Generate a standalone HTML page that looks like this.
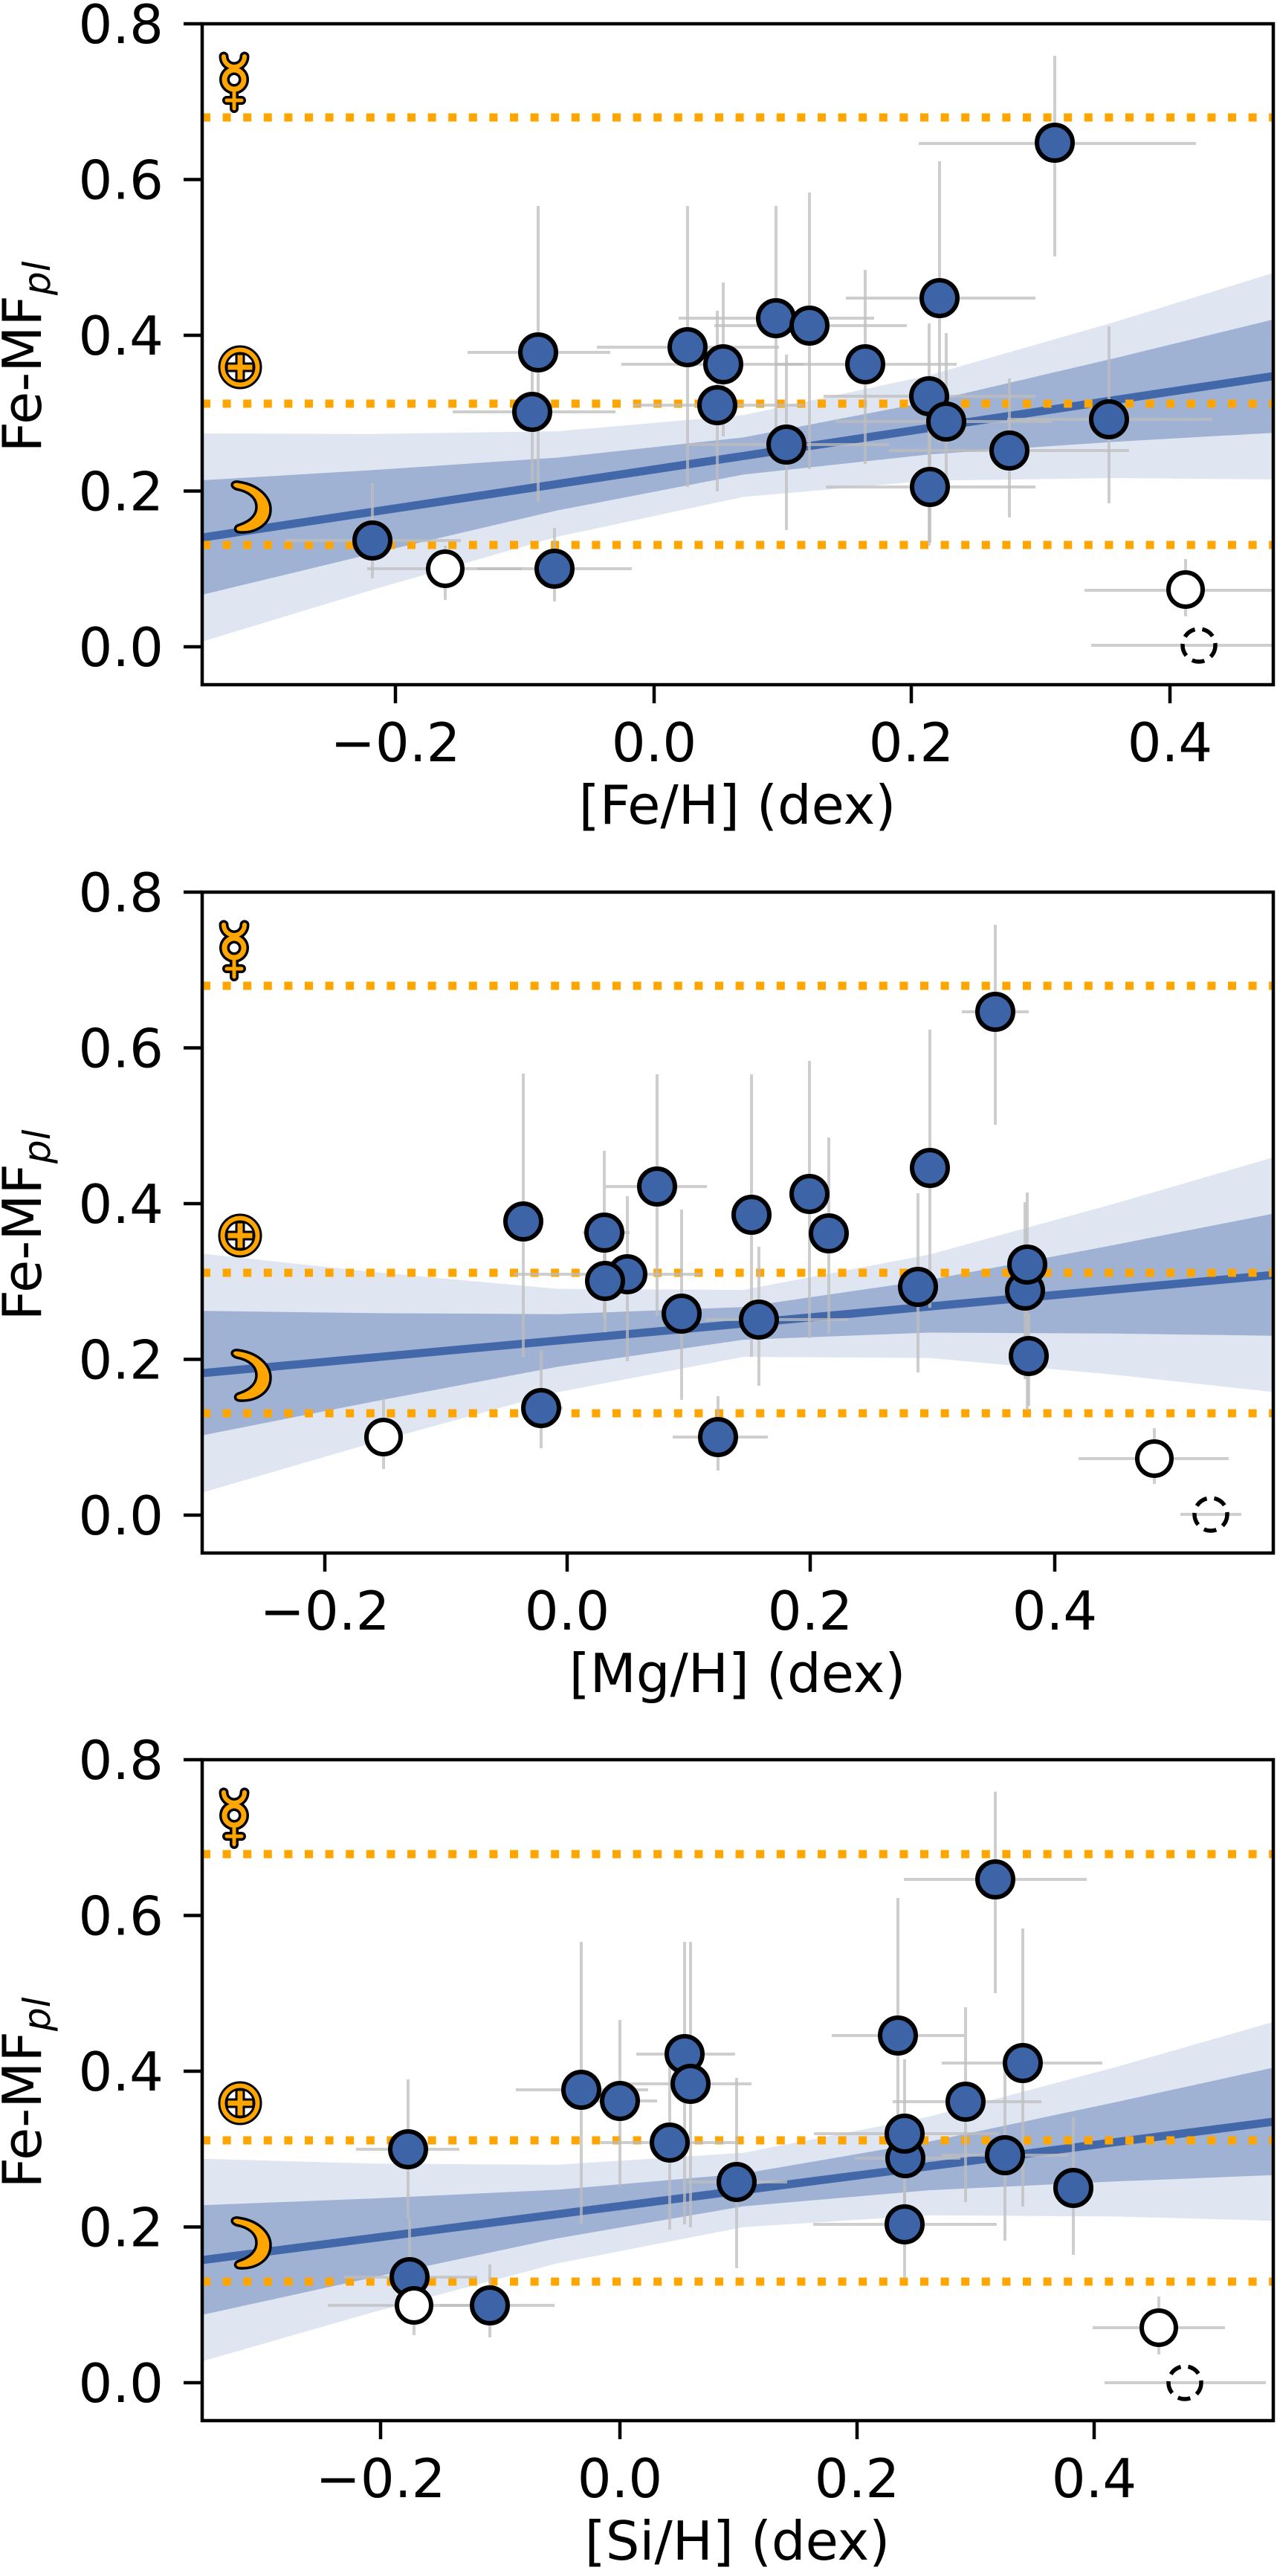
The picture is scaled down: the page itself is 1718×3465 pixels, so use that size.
<!DOCTYPE html>
<html><head><meta charset="utf-8"><style>
html,body{margin:0;padding:0;background:#fff;}
svg{display:block;}
text{font-family:"DejaVu Sans","Liberation Sans",sans-serif;fill:#000;}
.eb{stroke:#bdbdbd;stroke-opacity:0.75;stroke-width:4;fill:none;}
.pt{fill:#3d64a6;stroke:#000;stroke-width:6;}
.op{fill:#fff;stroke:#000;stroke-width:6;}
.ds{fill:none;stroke:#000;stroke-width:5.5;stroke-dasharray:17 10;}
.or{stroke:#ffa500;stroke-width:11;stroke-dasharray:11 16.6;}
.fr{fill:none;stroke:#000;stroke-width:4.5;}
.tk{stroke:#000;stroke-width:4.5;}
.tl{font-size:72px;}
.ob{fill:#dfe6f1;}
.ib{fill:#a0b2d3;}
.rl{stroke:#4368a9;stroke-width:11;}
</style></head><body>
<svg width="1718" height="3465" viewBox="0 0 1718 3465" xmlns="http://www.w3.org/2000/svg">
<defs>
<clipPath id="c1"><rect x="272" y="32" width="1441" height="889"/></clipPath>
<clipPath id="c2"><rect x="272" y="1200" width="1441" height="889"/></clipPath>
<clipPath id="c3"><rect x="272" y="2367" width="1441" height="889"/></clipPath>
<g id="sym">
 <!-- Mercury -->
 <g fill="none" stroke-linecap="round">
  <path d="M301,76 A14,14 0 0 0 329,76" stroke="#000" stroke-width="13"/>
  <circle cx="315" cy="107" r="13" stroke="#000" stroke-width="14"/>
  <line x1="315" y1="120" x2="315" y2="146" stroke="#000" stroke-width="12"/>
  <line x1="305" y1="135" x2="325" y2="135" stroke="#000" stroke-width="12"/>
  <path d="M301,76 A14,14 0 0 0 329,76" stroke="#ffa500" stroke-width="6"/>
  <circle cx="315" cy="107" r="13" stroke="#ffa500" stroke-width="7"/>
  <line x1="315" y1="120" x2="315" y2="146" stroke="#ffa500" stroke-width="5"/>
  <line x1="305" y1="135" x2="325" y2="135" stroke="#ffa500" stroke-width="5"/>
 </g>
 <!-- Earth -->
 <circle cx="323" cy="494" r="28" fill="#ffa500" stroke="#000" stroke-width="3"/>
 <circle cx="323" cy="494" r="19" fill="#fff" stroke="#000" stroke-width="3"/>
 <path d="M318,476 h10 v13 h13 v10 h-13 v13 h-10 v-13 h-13 v-10 h13 z" fill="#ffa500" stroke="#000" stroke-width="3"/>
 <!-- Moon -->
 <path d="M320,648 C350,652 364,670 364,685 C364,705 345,717 323,716 C315,716 314,708 322,706 C340,700 345,690 345,682 C345,670 335,661 318,658 C309,655 311,647 320,648 Z" fill="#ffa500" stroke="#000" stroke-width="3.5"/>
</g>
</defs>

<!-- ============ PANEL 1 ============ -->
<g clip-path="url(#c1)">
<polygon class="ob" points="272,583 500,583.7 750,580.1 1000,558.4 1250,504.8 1500,433 1713,367.1 1713,644.9 1500,643 1250,646.6 1000,668.4 750,721.9 500,793.7 272,863"/>
<polygon class="ib" points="272,646 500,632.4 750,615.5 1000,588.4 1250,540.2 1500,481.7 1713,429.8 1713,582.2 1500,594.3 1250,611.2 1000,638.4 750,686.5 500,745 272,800"/>
<line class="rl" x1="272" y1="723" x2="1713" y2="506"/>
<line class="or" x1="272" y1="158" x2="1713" y2="158"/>
<line class="or" x1="272" y1="543" x2="1713" y2="543"/>
<line class="or" x1="272" y1="733" x2="1713" y2="733"/>
<g class="eb">
<path d="M384,727H620M501,650V778"/>
<path d="M494,765H702M599,734V807"/>
<path d="M642,765H850M746,710V809"/>
<path d="M629,474H821M724,277V675"/>
<path d="M609,554H828M716,470V650"/>
<path d="M803,467H1048M925,277V655"/>
<path d="M836,490H1081M973,380V587"/>
<path d="M852,545H1081M965,418V661"/>
<path d="M913,428H1176M1044,277V580"/>
<path d="M961,438H1220M1089,259V631"/>
<path d="M925,598H1196M1058,477V713"/>
<path d="M1042,490H1287M1164,363V624"/>
<path d="M1138,401H1393M1264,217V595"/>
<path d="M1108,533H1393M1250,435V734"/>
<path d="M1124,567H1415M1273,448V661"/>
<path d="M1111,655H1393M1251,580V730"/>
<path d="M1196,606H1519M1358,509V696"/>
<path d="M1355,564H1631M1492,439V677"/>
<path d="M1236,193H1609M1419,75V345"/>
<path d="M1459,794H1713M1595,752V829"/>
<path d="M1468,868H1713"/>
</g>
<circle class="pt" cx="501" cy="727" r="24"/>
<circle class="op" cx="599" cy="765" r="23"/>
<circle class="pt" cx="746" cy="765" r="24"/>
<circle class="pt" cx="724" cy="474" r="24"/>
<circle class="pt" cx="716" cy="554" r="24"/>
<circle class="pt" cx="925" cy="467" r="24"/>
<circle class="pt" cx="973" cy="490" r="24"/>
<circle class="pt" cx="965" cy="545" r="24"/>
<circle class="pt" cx="1044" cy="428" r="24"/>
<circle class="pt" cx="1089" cy="438" r="24"/>
<circle class="pt" cx="1058" cy="598" r="24"/>
<circle class="pt" cx="1164" cy="490" r="24"/>
<circle class="pt" cx="1264" cy="401" r="24"/>
<circle class="pt" cx="1250" cy="533" r="24"/>
<circle class="pt" cx="1273" cy="567" r="24"/>
<circle class="pt" cx="1251" cy="655" r="24"/>
<circle class="pt" cx="1358" cy="606" r="24"/>
<circle class="pt" cx="1492" cy="564" r="24"/>
<circle class="pt" cx="1419" cy="192" r="24"/>
<circle class="op" cx="1595" cy="793" r="23"/>
<circle class="ds" cx="1613" cy="868" r="22"/>
</g>
<use href="#sym"/>
<rect class="fr" x="272" y="32" width="1441" height="889"/>
<g class="tk">
<path d="M247,32H272M247,241.5H272M247,451H272M247,660.5H272M247,870H272"/>
<path d="M532,921V946M880,921V946M1226,921V946M1574,921V946"/>
</g>
<g class="tl" text-anchor="end">
<text x="220" y="58">0.8</text><text x="220" y="267.5">0.6</text><text x="220" y="477">0.4</text><text x="220" y="686.5">0.2</text><text x="220" y="896">0.0</text>
</g>
<g class="tl" text-anchor="middle">
<text x="532" y="1024">−0.2</text><text x="880" y="1024">0.0</text><text x="1226" y="1024">0.2</text><text x="1574" y="1024">0.4</text>
<text x="992" y="1108">[Fe/H] (dex)</text>
</g>
<text class="tl" transform="translate(55,480) rotate(-90)" text-anchor="middle">Fe-MF<tspan font-size="50" font-style="italic" dy="12">pl</tspan></text>

<!-- ============ PANEL 2 ============ -->
<g clip-path="url(#c2)">
<polygon class="ob" points="272,1686.3 500,1710.8 750,1733.6 1000,1735.1 1250,1687.6 1500,1618.9 1713,1556.8 1713,1872.4 1500,1849.3 1250,1826.6 1000,1825.1 750,1872.6 500,1941.2 272,2007.7"/>
<polygon class="ib" points="272,1763.3 500,1766.3 750,1767.7 1000,1758.1 1250,1721.7 1500,1674.4 1713,1632.5 1713,1796.7 1500,1793.8 1250,1792.5 1000,1802.1 750,1838.5 500,1885.7 272,1930.7"/>
<line class="rl" x1="272" y1="1847" x2="1713" y2="1715"/>
<line class="or" x1="272" y1="1326" x2="1713" y2="1326"/>
<line class="or" x1="272" y1="1712" x2="1713" y2="1712"/>
<line class="or" x1="272" y1="1901" x2="1713" y2="1901"/>
<g class="eb">
<path d="M682,1643H726M704,1444V1825"/>
<path d="M702,1894H757M728,1816V1948"/>
<path d="M500,1933H532M516,1880V1976"/>
<path d="M784,1658H847M813,1548V1774"/>
<path d="M691,1714H943M844,1609V1831"/>
<path d="M790,1723H838M814,1656V1792"/>
<path d="M815,1596H951M884,1445V1770"/>
<path d="M897,1767H937M917,1627V1883"/>
<path d="M905,1933H1033M966,1878V1978"/>
<path d="M995,1634H1027M1011,1445V1825"/>
<path d="M949,1775H1141M1021,1677V1864"/>
<path d="M1073,1606H1105M1089,1427V1800"/>
<path d="M1099,1659H1131M1115,1530V1794"/>
<path d="M1235,1571H1267M1251,1385V1759"/>
<path d="M1219,1731H1251M1235,1605V1846"/>
<path d="M1294,1361H1384M1339,1244V1513"/>
<path d="M1366,1701H1398M1382,1604V1897"/>
<path d="M1363,1736H1395M1379,1617V1855"/>
<path d="M1368,1824H1400M1384,1767V1891"/>
<path d="M1451,1962H1653M1553,1921V1996"/>
<path d="M1588,2037H1670"/>
</g>
<circle class="pt" cx="704" cy="1643" r="24"/>
<circle class="pt" cx="728" cy="1894" r="24"/>
<circle class="op" cx="516" cy="1933" r="23"/>
<circle class="pt" cx="844" cy="1714" r="24"/>
<circle class="pt" cx="813" cy="1658" r="24"/>
<circle class="pt" cx="814" cy="1723" r="24"/>
<circle class="pt" cx="884" cy="1596" r="24"/>
<circle class="pt" cx="917" cy="1767" r="24"/>
<circle class="pt" cx="966" cy="1933" r="24"/>
<circle class="pt" cx="1011" cy="1634" r="24"/>
<circle class="pt" cx="1021" cy="1775" r="24"/>
<circle class="pt" cx="1089" cy="1606" r="24"/>
<circle class="pt" cx="1115" cy="1659" r="24"/>
<circle class="pt" cx="1251" cy="1571" r="24"/>
<circle class="pt" cx="1235" cy="1731" r="24"/>
<circle class="pt" cx="1339" cy="1361" r="24"/>
<circle class="pt" cx="1379" cy="1736" r="24"/>
<circle class="pt" cx="1382" cy="1701" r="24"/>
<circle class="pt" cx="1384" cy="1824" r="24"/>
<circle class="op" cx="1553" cy="1962" r="23"/>
<circle class="ds" cx="1629" cy="2037" r="22"/>
</g>
<use href="#sym" transform="translate(0,1168)"/>
<rect class="fr" x="272" y="1200" width="1441" height="889"/>
<g class="tk">
<path d="M247,1200H272M247,1409.5H272M247,1619H272M247,1828.5H272M247,2038H272"/>
<path d="M437,2089V2114M763,2089V2114M1090,2089V2114M1419,2089V2114"/>
</g>
<g class="tl" text-anchor="end">
<text x="220" y="1226">0.8</text><text x="220" y="1435.5">0.6</text><text x="220" y="1645">0.4</text><text x="220" y="1854.5">0.2</text><text x="220" y="2064">0.0</text>
</g>
<g class="tl" text-anchor="middle">
<text x="437" y="2192">−0.2</text><text x="763" y="2192">0.0</text><text x="1090" y="2192">0.2</text><text x="1419" y="2192">0.4</text>
<text x="992" y="2276">[Mg/H] (dex)</text>
</g>
<text class="tl" transform="translate(55,1648) rotate(-90)" text-anchor="middle">Fe-MF<tspan font-size="50" font-style="italic" dy="12">pl</tspan></text>

<!-- ============ PANEL 3 ============ -->
<g clip-path="url(#c3)">
<polygon class="ob" points="272,2903.8 500,2910.2 750,2911.8 1000,2895.8 1250,2847.1 1500,2780.8 1713,2719.8 1713,2987.2 1500,2981.4 1250,2979.7 1000,2995.8 750,3044.4 500,3110.8 272,3176.2"/>
<polygon class="ib" points="272,2966.2 500,2957.3 750,2945.4 1000,2923.8 1250,2880.7 1500,2827.9 1713,2781.2 1713,2925.8 1500,2934.3 1250,2946.1 1000,2967.8 750,3010.8 500,3063.7 272,3113.8"/>
<line class="rl" x1="272" y1="3040" x2="1713" y2="2854"/>
<line class="or" x1="272" y1="2494" x2="1713" y2="2494"/>
<line class="or" x1="272" y1="2879" x2="1713" y2="2879"/>
<line class="or" x1="272" y1="3069" x2="1713" y2="3069"/>
<g class="eb">
<path d="M479,2891H618M549,2797V2984"/>
<path d="M463,3063H642M551,2984V3089"/>
<path d="M441,3101H671M557,3070V3141"/>
<path d="M592,3101H746M659,3046V3144"/>
<path d="M694,2811H872M782,2612V2992"/>
<path d="M768,2826H884M834,2717V2941"/>
<path d="M808,2882H993M901,2776V2999"/>
<path d="M856,2763H989M921,2612V2992"/>
<path d="M845,2803H1011M929,2612V2996"/>
<path d="M925,2935H1059M991,2795V3051"/>
<path d="M1119,2738H1297M1208,2553V2869"/>
<path d="M1095,2870H1344M1217,2770V3022"/>
<path d="M1150,2903H1292"/>
<path d="M1094,2992H1341M1217,2940V3065"/>
<path d="M1201,2827H1401M1299,2700V2962"/>
<path d="M1267,2899H1437M1352,2776V3014"/>
<path d="M1267,2775H1483M1376,2594V2968"/>
<path d="M1428,2943H1460M1444,2847V3033"/>
<path d="M1216,2528H1462M1339,2410V2681"/>
<path d="M1470,3131H1648M1559,3089V3167"/>
<path d="M1486,3205H1703"/>
</g>
<circle class="pt" cx="549" cy="2891" r="24"/>
<circle class="pt" cx="551" cy="3063" r="24"/>
<circle class="op" cx="557" cy="3101" r="23"/>
<circle class="pt" cx="659" cy="3101" r="24"/>
<circle class="pt" cx="782" cy="2811" r="24"/>
<circle class="pt" cx="834" cy="2826" r="24"/>
<circle class="pt" cx="901" cy="2882" r="24"/>
<circle class="pt" cx="921" cy="2763" r="24"/>
<circle class="pt" cx="929" cy="2803" r="24"/>
<circle class="pt" cx="991" cy="2935" r="24"/>
<circle class="pt" cx="1208" cy="2738" r="24"/>
<circle class="pt" cx="1218" cy="2903" r="24"/>
<circle class="pt" cx="1217" cy="2870" r="24"/>
<circle class="pt" cx="1217" cy="2992" r="24"/>
<circle class="pt" cx="1299" cy="2827" r="24"/>
<circle class="pt" cx="1352" cy="2899" r="24"/>
<circle class="pt" cx="1376" cy="2775" r="24"/>
<circle class="pt" cx="1444" cy="2943" r="24"/>
<circle class="pt" cx="1339" cy="2528" r="24"/>
<circle class="op" cx="1559" cy="3131" r="23"/>
<circle class="ds" cx="1594" cy="3205" r="22"/>
</g>
<use href="#sym" transform="translate(0,2335)"/>
<rect class="fr" x="272" y="2367" width="1441" height="889"/>
<g class="tk">
<path d="M247,2367H272M247,2576.5H272M247,2786H272M247,2995.5H272M247,3205H272"/>
<path d="M512,3256V3281M834,3256V3281M1153,3256V3281M1472,3256V3281"/>
</g>
<g class="tl" text-anchor="end">
<text x="220" y="2393">0.8</text><text x="220" y="2602.5">0.6</text><text x="220" y="2812">0.4</text><text x="220" y="3021.5">0.2</text><text x="220" y="3231">0.0</text>
</g>
<g class="tl" text-anchor="middle">
<text x="512" y="3359">−0.2</text><text x="834" y="3359">0.0</text><text x="1153" y="3359">0.2</text><text x="1472" y="3359">0.4</text>
<text x="992" y="3443">[Si/H] (dex)</text>
</g>
<text class="tl" transform="translate(55,2815) rotate(-90)" text-anchor="middle">Fe-MF<tspan font-size="50" font-style="italic" dy="12">pl</tspan></text>
</svg>
</body></html>
